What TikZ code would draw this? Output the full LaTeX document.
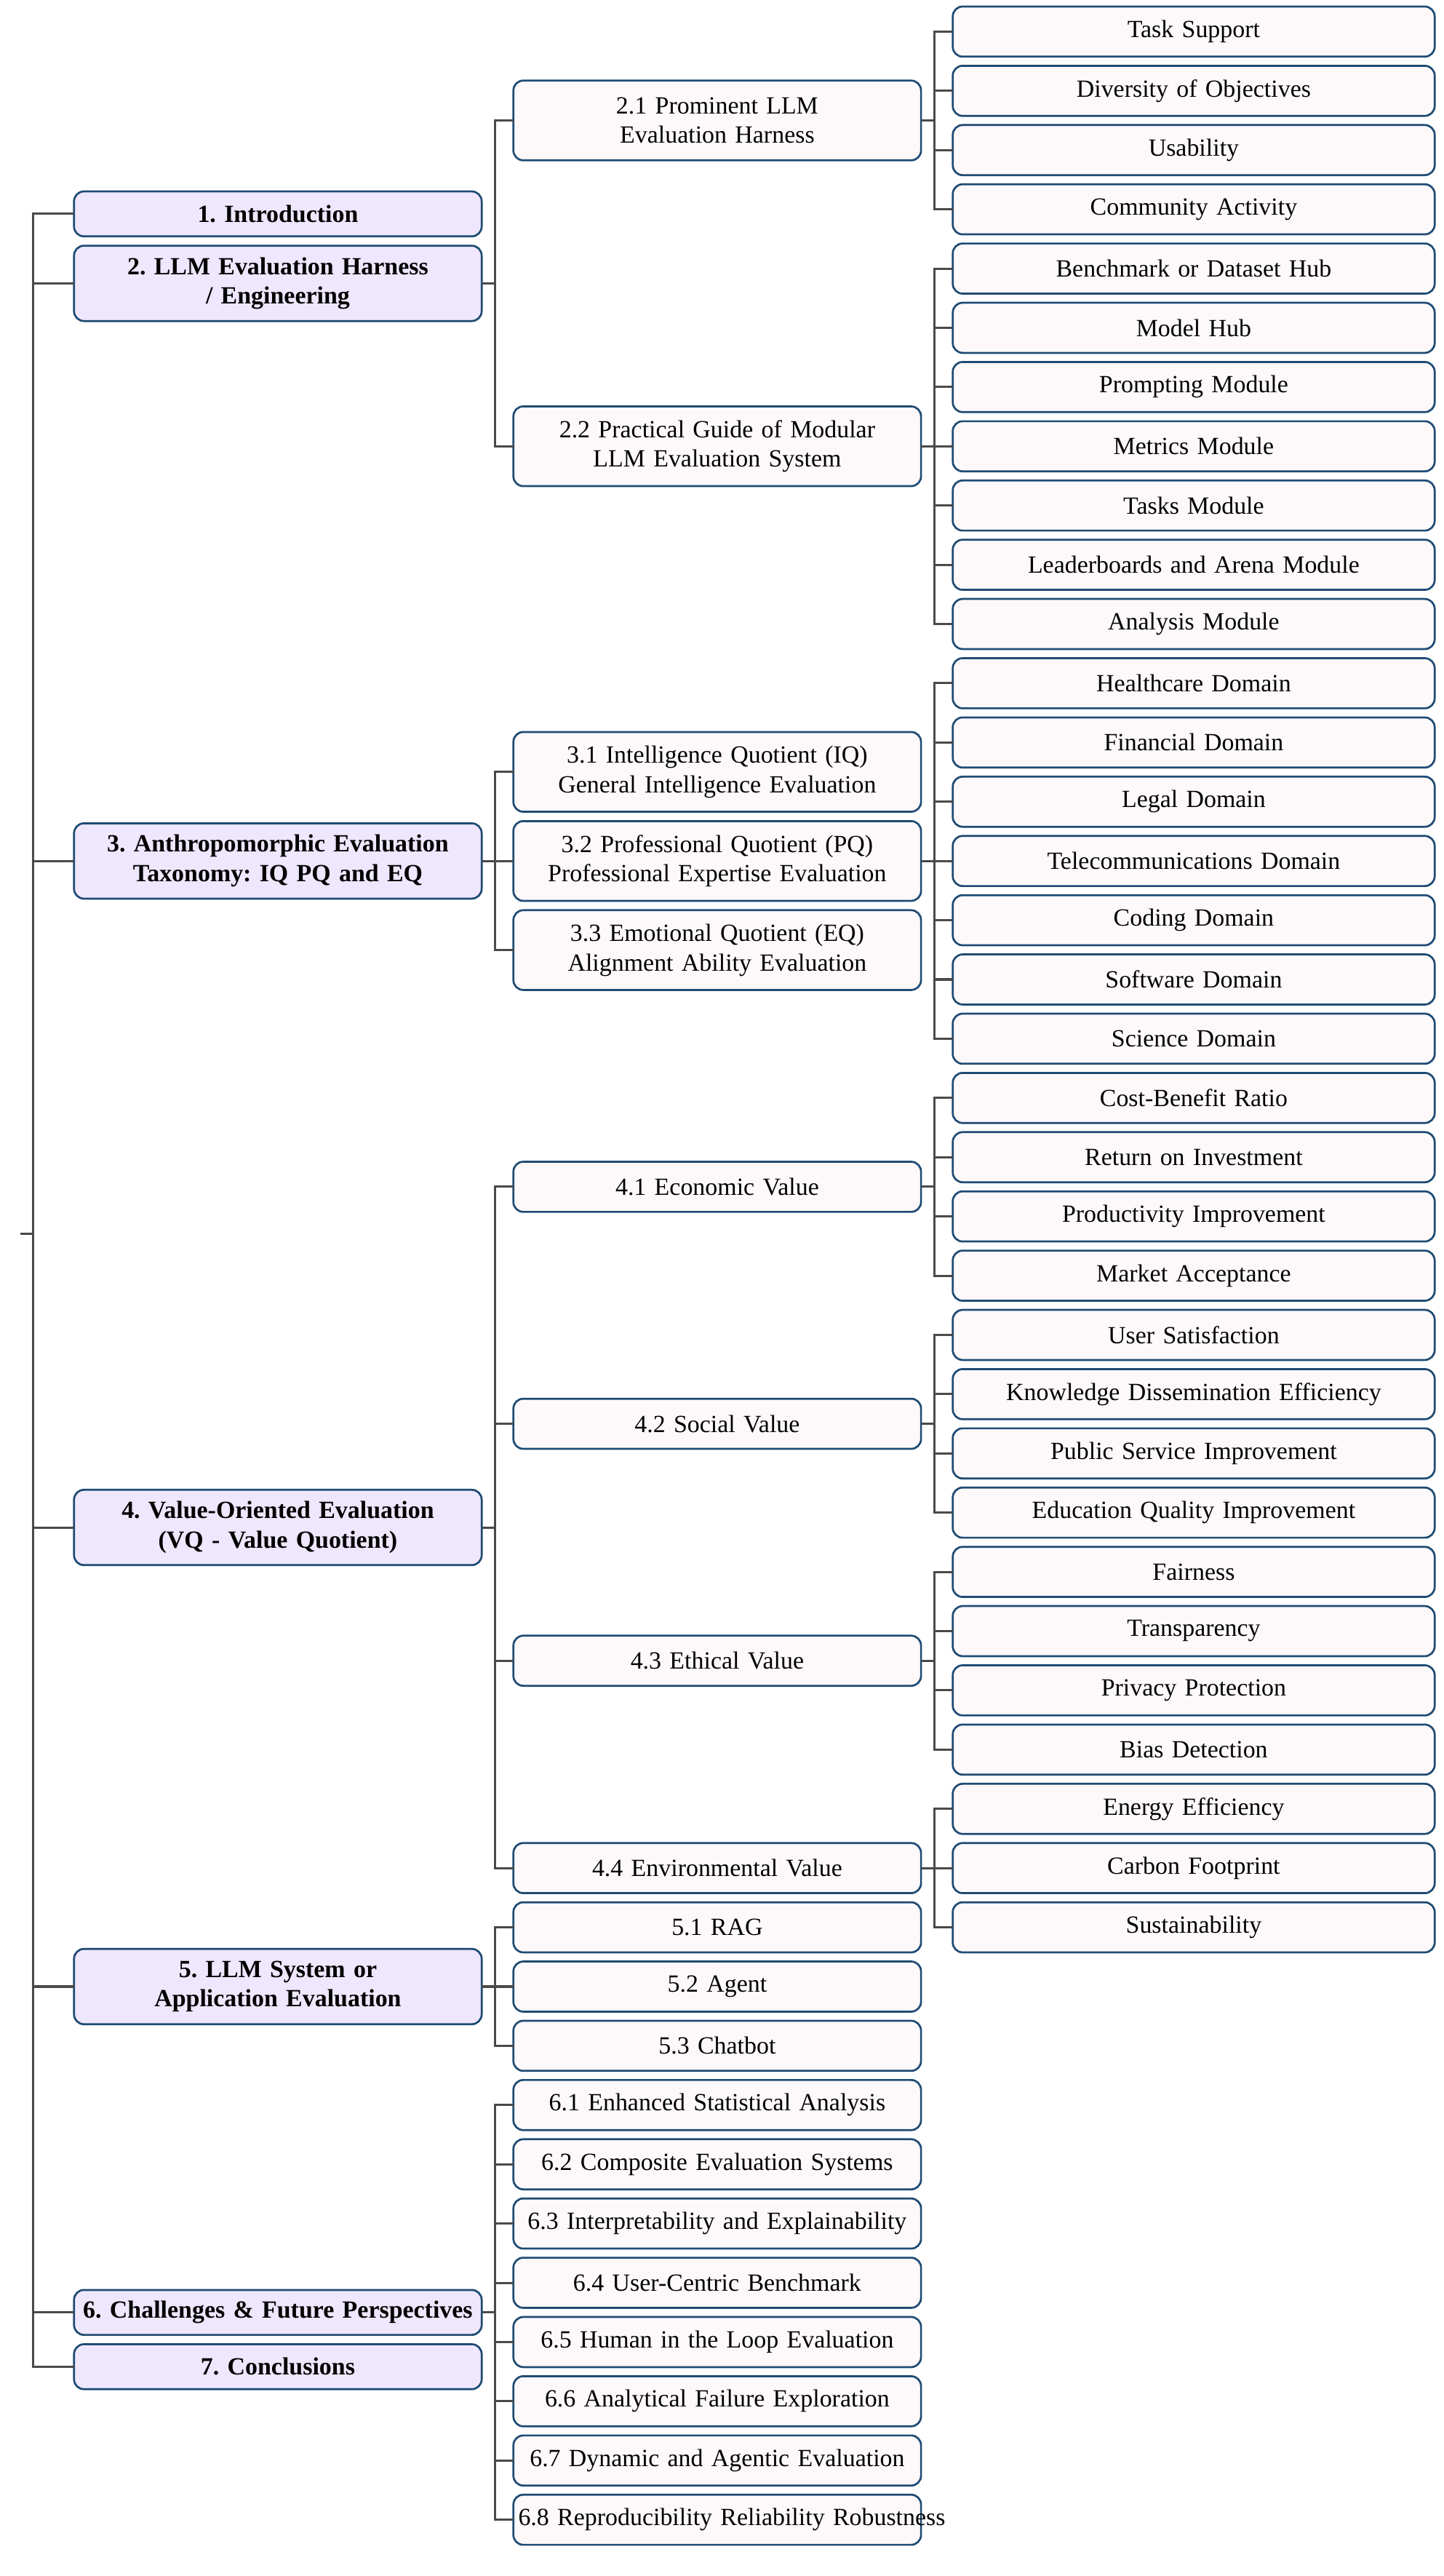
\documentclass[tikz,border=0pt]{standalone}
\usepackage{fontspec}
\setmainfont{Liberation Serif}
\usetikzlibrary{positioning,calc}
\frenchspacing

\definecolor{secfill}{HTML}{EEE7FD}
\definecolor{subfill}{HTML}{FDF9FA}
\definecolor{boxline}{HTML}{1F4B73}
\definecolor{edgegray}{HTML}{4A4A4A}

\begin{document}
\begin{tikzpicture}[tbox/.style={draw=boxline, line width=0.8pt, rounded corners=4pt, align=center, inner xsep=2pt, inner ysep=1pt, outer sep=0pt},
    sec/.style={tbox, fill=secfill, font=\bfseries, text width=161.2pt, minimum height=18.2pt},
    secw/.style={sec, minimum height=30.5pt},
    sub/.style={tbox, fill=subfill, text width=161.2pt, minimum height=20.3pt},
    subw/.style={sub, minimum height=32.3pt},
    leaf/.style={tbox, fill=subfill, text width=191.3pt, minimum height=20.3pt},
    branch/.style={draw=edgegray, line width=0.9pt}]

    \useasboundingbox (0,0) rectangle (584.9pt,-1043.6pt);

    % leaves
    \node[leaf] (tsup) at (483.75pt,-12.8pt) {Task Support};
    \node[leaf, below=3.7pt of tsup]   (divo)   {Diversity of Objectives};
    \node[leaf, below=3.7pt of divo]   (usab)   {Usability};
    \node[leaf, below=3.7pt of usab]   (comm)   {Community Activity};
    \node[leaf, below=3.7pt of comm]   (bench)  {Benchmark or Dataset Hub};
    \node[leaf, below=3.7pt of bench]  (mhub)   {Model Hub};
    \node[leaf, below=3.7pt of mhub]   (prompt) {Prompting Module};
    \node[leaf, below=3.7pt of prompt] (metric) {Metrics Module};
    \node[leaf, below=3.7pt of metric] (tasks)  {Tasks Module};
    \node[leaf, below=3.7pt of tasks]  (board)  {Leaderboards and Arena Module};
    \node[leaf, below=3.7pt of board]  (analy)  {Analysis Module};
    \node[leaf, below=3.7pt of analy]  (health) {Healthcare Domain};
    \node[leaf, below=3.7pt of health] (fin)    {Financial Domain};
    \node[leaf, below=3.7pt of fin]    (legal)  {Legal Domain};
    \node[leaf, below=3.7pt of legal]  (tele)   {Telecommunications Domain};
    \node[leaf, below=3.7pt of tele]   (coding) {Coding Domain};
    \node[leaf, below=3.7pt of coding] (soft)   {Software Domain};
    \node[leaf, below=3.7pt of soft]   (sci)    {Science Domain};
    \node[leaf, below=3.7pt of sci]    (cost)   {Cost-Benefit Ratio};
    \node[leaf, below=3.7pt of cost]   (roi)    {Return on Investment};
    \node[leaf, below=3.7pt of roi]    (prod)   {Productivity Improvement};
    \node[leaf, below=3.7pt of prod]   (market) {Market Acceptance};
    \node[leaf, below=3.7pt of market] (usat)   {User Satisfaction};
    \node[leaf, below=3.7pt of usat]   (know)   {Knowledge Dissemination Efficiency};
    \node[leaf, below=3.7pt of know]   (pub)    {Public Service Improvement};
    \node[leaf, below=3.7pt of pub]    (edu)    {Education Quality Improvement};
    \node[leaf, below=3.7pt of edu]    (fair)   {Fairness};
    \node[leaf, below=3.7pt of fair]   (trans)  {Transparency};
    \node[leaf, below=3.7pt of trans]  (priv)   {Privacy Protection};
    \node[leaf, below=3.7pt of priv]   (bias)   {Bias Detection};
    \node[leaf, below=3.7pt of bias]   (energy) {Energy Efficiency};
    \node[leaf, below=3.7pt of energy] (carbon) {Carbon Footprint};
    \node[leaf, below=3.7pt of carbon] (sust)   {Sustainability};

    % subsections
    \node[subw, anchor=east, xshift=-12.85pt] (p21) at ($(tsup.west)!.5!(comm.west)$) {2.1 Prominent LLM\\Evaluation Harness};
    \node[subw, anchor=east, xshift=-12.85pt] (p22) at ($(bench.west)!.5!(analy.west)$) {2.2 Practical Guide of Modular\\LLM Evaluation System};
    \node[subw, anchor=east, xshift=-12.85pt] (p32) at ($(health.west)!.5!(sci.west)$) {3.2 Professional Quotient (PQ)\\Professional Expertise Evaluation};
    \node[subw, above=3.8pt of p32] (p31) {3.1 Intelligence Quotient (IQ)\\General Intelligence Evaluation};
    \node[subw, below=3.8pt of p32] (p33) {3.3 Emotional Quotient (EQ)\\Alignment Ability Evaluation};
    \node[sub, anchor=east, xshift=-12.85pt] (p41) at ($(cost.west)!.5!(market.west)$) {4.1 Economic Value};
    \node[sub, anchor=east, xshift=-12.85pt] (p42) at ($(usat.west)!.5!(edu.west)$) {4.2 Social Value};
    \node[sub, anchor=east, xshift=-12.85pt] (p43) at ($(fair.west)!.5!(bias.west)$) {4.3 Ethical Value};
    \node[sub, left=12.85pt of carbon] (p44) {4.4 Environmental Value};
    \node[sub, below=3.7pt of p44] (p51) {5.1 RAG};
    \node[sub, below=3.7pt of p51] (p52) {5.2 Agent};
    \node[sub, below=3.7pt of p52] (p53) {5.3 Chatbot};
    \node[sub, below=3.7pt of p53] (p61) {6.1 Enhanced Statistical Analysis};
    \node[sub, below=3.7pt of p61] (p62) {6.2 Composite Evaluation Systems};
    \node[sub, below=3.7pt of p62] (p63) {6.3 Interpretability and Explainability};
    \node[sub, below=3.7pt of p63] (p64) {6.4 User-Centric Benchmark};
    \node[sub, below=3.7pt of p64] (p65) {6.5 Human in the Loop Evaluation};
    \node[sub, below=3.7pt of p65] (p66) {6.6 Analytical Failure Exploration};
    \node[sub, below=3.7pt of p66] (p67) {6.7 Dynamic and Agentic Evaluation};
    \node[sub, below=3.7pt of p67] (p68) {\mbox{6.8 Reproducibility Reliability Robustness}};

    % sections
    \node[secw, anchor=east, xshift=-12.85pt] (s2) at ($(p21.west)!.5!(p22.west)$) {2. LLM Evaluation Harness\\/ Engineering};
    \node[sec, above=3.8pt of s2] (s1) {1. Introduction};
    \node[secw, left=12.85pt of p32] (s3) {3. Anthropomorphic Evaluation\\Taxonomy: IQ PQ and EQ};
    \node[secw, anchor=east, xshift=-12.85pt] (s4) at ($(p41.west)!.5!(p44.west)$) {4. Value-Oriented Evaluation\\(VQ - Value Quotient)};
    \node[secw, left=12.85pt of p52] (s5) {5. LLM System or\\Application Evaluation};
    \node[sec, anchor=east, xshift=-12.85pt] (s6) at ($(p61.west)!.5!(p68.west)$) {6. Challenges \& Future Perspectives};
    \node[sec, below=3.8pt of s6] (s7) {7. Conclusions};

    \coordinate (root) at (8.3pt,-499.7pt);

    % root to sections
    \draw[branch] (root) -- ++(5pt,0) |- (s1.west);
    \draw[branch] (root) -- ++(5pt,0) |- (s2.west);
    \draw[branch] (root) -- ++(5pt,0) |- (s3.west);
    \draw[branch] (root) -- ++(5pt,0) |- (s4.west);
    \draw[branch] (root) -- ++(5pt,0) |- (s5.west);
    \draw[branch] (root) -- ++(5pt,0) |- (s6.west);
    \draw[branch] (root) -- ++(5pt,0) |- (s7.west);

    % sections to subsections
    \draw[branch] (s2.east) -- ++(5.5pt,0) |- (p21.west);
    \draw[branch] (s2.east) -- ++(5.5pt,0) |- (p22.west);
    \draw[branch] (s3.east) -- ++(5.5pt,0) |- (p31.west);
    \draw[branch] (s3.east) -- ++(5.5pt,0) |- (p32.west);
    \draw[branch] (s3.east) -- ++(5.5pt,0) |- (p33.west);
    \draw[branch] (s4.east) -- ++(5.5pt,0) |- (p41.west);
    \draw[branch] (s4.east) -- ++(5.5pt,0) |- (p42.west);
    \draw[branch] (s4.east) -- ++(5.5pt,0) |- (p43.west);
    \draw[branch] (s4.east) -- ++(5.5pt,0) |- (p44.west);
    \draw[branch] (s5.east) -- ++(5.5pt,0) |- (p51.west);
    \draw[branch] (s5.east) -- ++(5.5pt,0) |- (p52.west);
    \draw[branch] (s5.east) -- ++(5.5pt,0) |- (p53.west);
    \draw[branch] (s6.east) -- ++(5.5pt,0) |- (p61.west);
    \draw[branch] (s6.east) -- ++(5.5pt,0) |- (p62.west);
    \draw[branch] (s6.east) -- ++(5.5pt,0) |- (p63.west);
    \draw[branch] (s6.east) -- ++(5.5pt,0) |- (p64.west);
    \draw[branch] (s6.east) -- ++(5.5pt,0) |- (p65.west);
    \draw[branch] (s6.east) -- ++(5.5pt,0) |- (p66.west);
    \draw[branch] (s6.east) -- ++(5.5pt,0) |- (p67.west);
    \draw[branch] (s6.east) -- ++(5.5pt,0) |- (p68.west);

    % subsections to leaves
    \draw[branch] (p21.east) -- ++(5.5pt,0) |- (tsup.west);
    \draw[branch] (p21.east) -- ++(5.5pt,0) |- (divo.west);
    \draw[branch] (p21.east) -- ++(5.5pt,0) |- (usab.west);
    \draw[branch] (p21.east) -- ++(5.5pt,0) |- (comm.west);
    \draw[branch] (p22.east) -- ++(5.5pt,0) |- (bench.west);
    \draw[branch] (p22.east) -- ++(5.5pt,0) |- (mhub.west);
    \draw[branch] (p22.east) -- ++(5.5pt,0) |- (prompt.west);
    \draw[branch] (p22.east) -- ++(5.5pt,0) |- (metric.west);
    \draw[branch] (p22.east) -- ++(5.5pt,0) |- (tasks.west);
    \draw[branch] (p22.east) -- ++(5.5pt,0) |- (board.west);
    \draw[branch] (p22.east) -- ++(5.5pt,0) |- (analy.west);
    \draw[branch] (p32.east) -- ++(5.5pt,0) |- (health.west);
    \draw[branch] (p32.east) -- ++(5.5pt,0) |- (fin.west);
    \draw[branch] (p32.east) -- ++(5.5pt,0) |- (legal.west);
    \draw[branch] (p32.east) -- ++(5.5pt,0) |- (tele.west);
    \draw[branch] (p32.east) -- ++(5.5pt,0) |- (coding.west);
    \draw[branch] (p32.east) -- ++(5.5pt,0) |- (soft.west);
    \draw[branch] (p32.east) -- ++(5.5pt,0) |- (sci.west);
    \draw[branch] (p41.east) -- ++(5.5pt,0) |- (cost.west);
    \draw[branch] (p41.east) -- ++(5.5pt,0) |- (roi.west);
    \draw[branch] (p41.east) -- ++(5.5pt,0) |- (prod.west);
    \draw[branch] (p41.east) -- ++(5.5pt,0) |- (market.west);
    \draw[branch] (p42.east) -- ++(5.5pt,0) |- (usat.west);
    \draw[branch] (p42.east) -- ++(5.5pt,0) |- (know.west);
    \draw[branch] (p42.east) -- ++(5.5pt,0) |- (pub.west);
    \draw[branch] (p42.east) -- ++(5.5pt,0) |- (edu.west);
    \draw[branch] (p43.east) -- ++(5.5pt,0) |- (fair.west);
    \draw[branch] (p43.east) -- ++(5.5pt,0) |- (trans.west);
    \draw[branch] (p43.east) -- ++(5.5pt,0) |- (priv.west);
    \draw[branch] (p43.east) -- ++(5.5pt,0) |- (bias.west);
    \draw[branch] (p44.east) -- ++(5.5pt,0) |- (energy.west);
    \draw[branch] (p44.east) -- ++(5.5pt,0) |- (carbon.west);
    \draw[branch] (p44.east) -- ++(5.5pt,0) |- (sust.west);

\end{tikzpicture}
\end{document}
